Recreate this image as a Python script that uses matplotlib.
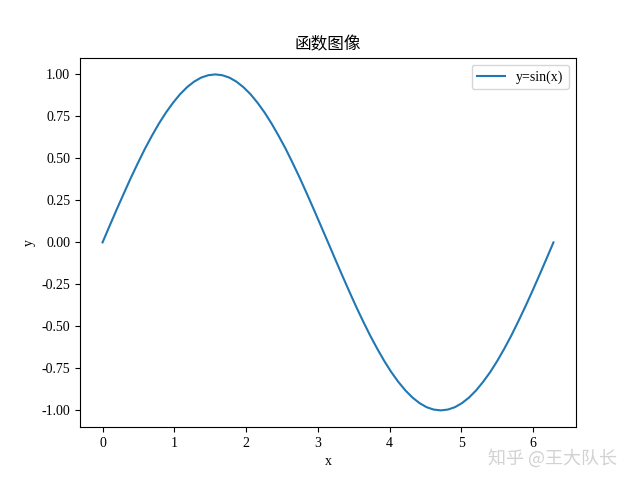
import matplotlib
matplotlib.use("Agg")
import matplotlib.pyplot as plt

plt.rcParams['font.family'] = ['Liberation Serif', 'Noto Sans CJK SC', 'DejaVu Sans']
plt.rcParams['axes.unicode_minus'] = False

# values (y = sin(x) over 0..2π)
x_vals = [0.000, 0.098, 0.196, 0.295, 0.393, 0.491, 0.589, 0.687, 0.785, 0.884, 0.982,
          1.080, 1.178, 1.276, 1.374, 1.473, 1.571, 1.669, 1.767, 1.865, 1.963, 2.062,
          2.160, 2.258, 2.356, 2.454, 2.553, 2.651, 2.749, 2.847, 2.945, 3.043, 3.142,
          3.240, 3.338, 3.436, 3.534, 3.632, 3.731, 3.829, 3.927, 4.025, 4.123, 4.222,
          4.320, 4.418, 4.516, 4.614, 4.712, 4.811, 4.909, 5.007, 5.105, 5.203, 5.301,
          5.400, 5.498, 5.596, 5.694, 5.792, 5.890, 5.989, 6.087, 6.185, 6.283]
y_vals = [0.000, 0.098, 0.195, 0.290, 0.383, 0.471, 0.556, 0.634, 0.707, 0.773, 0.831,
          0.882, 0.924, 0.957, 0.981, 0.995, 1.000, 0.995, 0.981, 0.957, 0.924, 0.882,
          0.831, 0.773, 0.707, 0.634, 0.556, 0.471, 0.383, 0.290, 0.195, 0.098, 0.000,
          -0.098, -0.195, -0.290, -0.383, -0.471, -0.556, -0.634, -0.707, -0.773, -0.831,
          -0.882, -0.924, -0.957, -0.981, -0.995, -1.000, -0.995, -0.981, -0.957, -0.924,
          -0.882, -0.831, -0.773, -0.707, -0.634, -0.556, -0.471, -0.383, -0.290, -0.195,
          -0.098, 0.000]
series_label = "y=sin(x)"
title = "函数图像"

fig, ax = plt.subplots(figsize=(6.4, 4.8), dpi=100)
ax.plot(x_vals, y_vals, label=series_label)
ax.set_title(title)
ax.set_xlabel("x")
ax.set_ylabel("y")
ax.legend(loc="upper right")
fig.text(0.763, 0.033, "知乎 @王大队长", fontsize=13, color="#d2d2d2",
         family=['Noto Sans CJK SC', 'DejaVu Sans'])
fig.savefig("out.png")
